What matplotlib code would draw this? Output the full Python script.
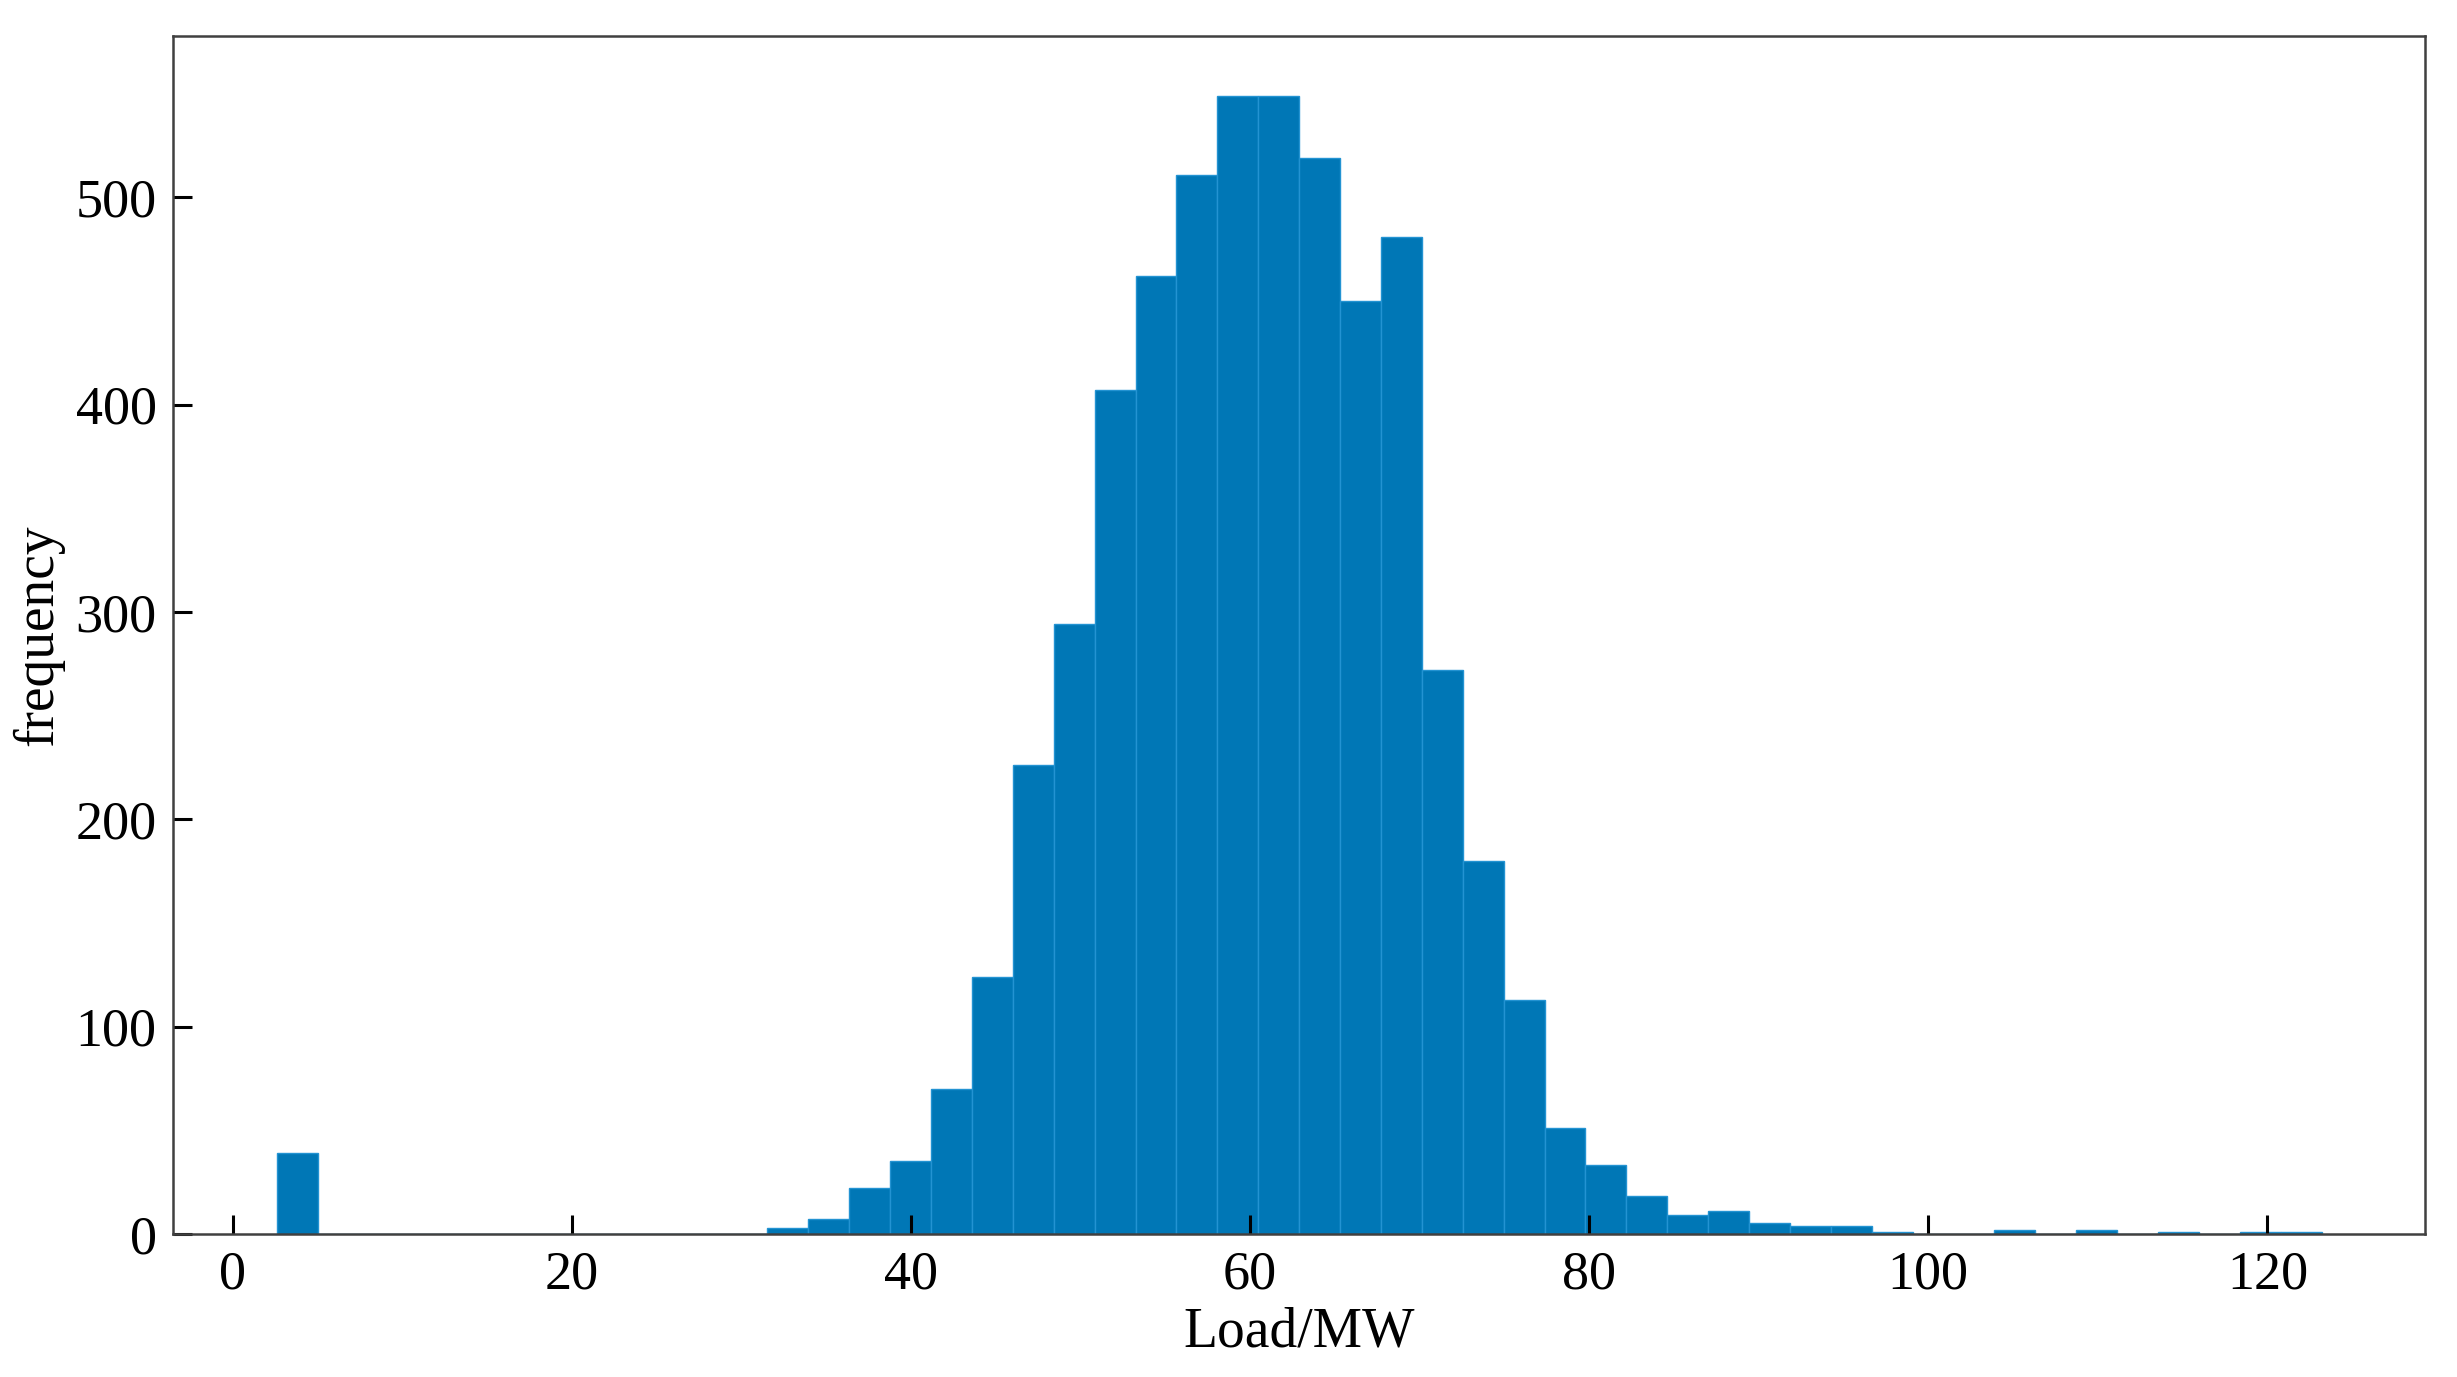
import numpy as np
import matplotlib.pyplot as plt

# histogram of load values, 50 bins
bin_start = 2.6
bin_width = 2.412
counts = [39, 0, 0, 0, 0, 0, 0, 0, 0, 0,
          0, 0, 3, 7, 22, 35, 70, 124, 226, 294,
          407, 462, 511, 549, 549, 519, 450, 481, 272, 180,
          113, 51, 33, 18, 9, 11, 5, 4, 4, 1,
          0, 0, 2, 0, 2, 0, 1, 0, 1, 1]
x_ticks = [0, 20, 40, 60, 80, 100, 120]
y_ticks = [0, 100, 200, 300, 400, 500]

edges = bin_start + bin_width * np.arange(len(counts) + 1)
centers = edges[:-1] + bin_width / 2

plt.rcParams['font.family'] = ['Liberation Serif', 'DejaVu Serif']

fig = plt.figure(figsize=(12.285, 6.885), dpi=200)
ax = fig.add_axes([0.0705, 0.104, 0.9165, 0.870])

ax.hist(centers, bins=edges, weights=counts, color='#0077b6',
        edgecolor='#2393d2', linewidth=0.5)

ax.set_xlim(-3.5, 129.3)
ax.set_ylim(0, 578)
ax.set_xticks(x_ticks)
ax.set_yticks(y_ticks)
ax.tick_params(direction='in', length=7, width=1.1, labelsize=19.5,
               colors='black', pad=6)
for s in ax.spines.values():
    s.set_color('#404040')
    s.set_linewidth(0.9)

ax.set_xlabel('Load/MW', fontsize=20, labelpad=2)
ax.set_ylabel('frequency', fontsize=20, labelpad=4)

fig.savefig('out.png', dpi=200)
